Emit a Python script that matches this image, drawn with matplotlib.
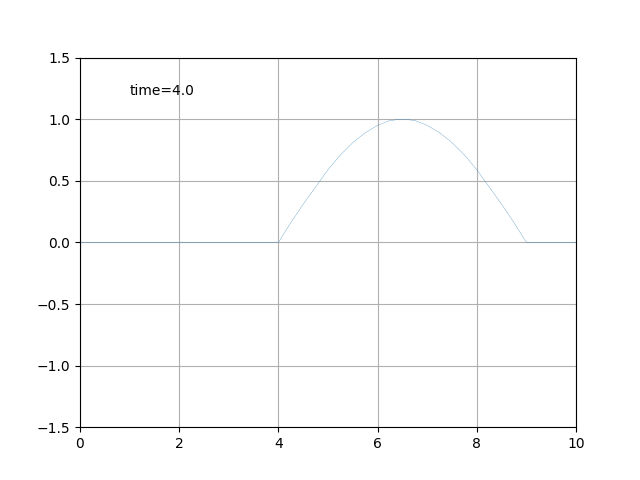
import matplotlib
matplotlib.use("Agg")
import matplotlib.pyplot as plt

x_vals = [0, 1, 2, 3, 4, 4.25, 4.5, 4.75, 5, 5.25, 5.5, 5.75, 6, 6.25, 6.5,
          6.75, 7, 7.25, 7.5, 7.75, 8, 8.25, 8.5, 8.75, 9, 9.5, 10]
y_vals = [0, 0, 0, 0, 0, 0.16, 0.31, 0.45, 0.59, 0.71, 0.81, 0.89, 0.95, 0.99, 1.0,
          0.99, 0.95, 0.89, 0.81, 0.71, 0.59, 0.45, 0.31, 0.16, 0, 0, 0]
label = "time=4.0"

fig, ax = plt.subplots(figsize=(6.4, 4.8), dpi=100)
ax.plot(x_vals, y_vals, color="tab:blue", linewidth=0.2)
ax.set_xlim(0, 10)
ax.set_ylim(-1.5, 1.5)
ax.grid(True)
ax.text(1.0, 1.2, label)
fig.savefig("out.png", dpi=100)
